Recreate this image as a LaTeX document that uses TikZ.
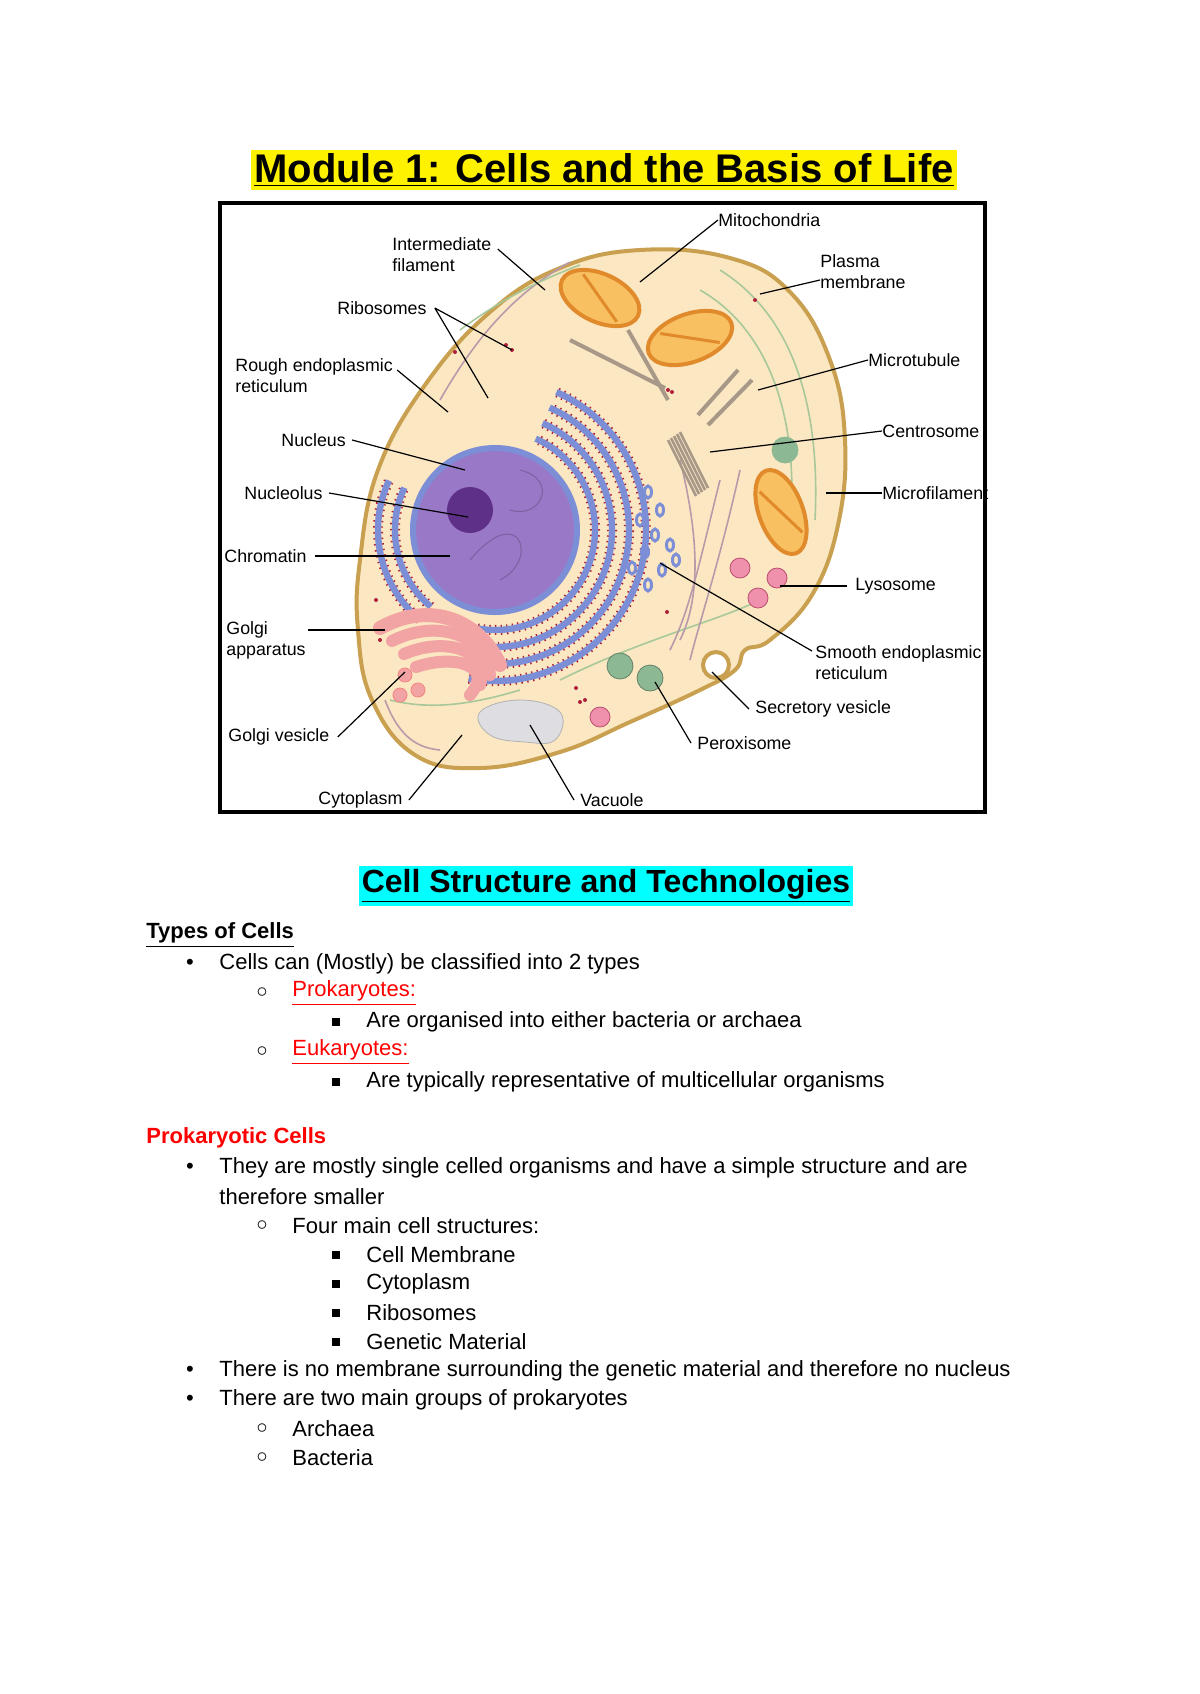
\documentclass[tikz,border=0pt]{standalone}
\usepackage{fontspec}
\setmainfont{Liberation Sans}
\usetikzlibrary{calc}
\definecolor{cellfill}{HTML}{FBE7C2}
\definecolor{cellline}{HTML}{C9A050}
\definecolor{erblue}{HTML}{7C8FD6}
\definecolor{ribored}{HTML}{B0203A}
\definecolor{nucpur}{HTML}{9A78C8}
\definecolor{nucdark}{HTML}{5E3088}
\definecolor{golgi}{HTML}{F2A3A3}
\definecolor{mito}{HTML}{E08A2C}
\definecolor{mitoin}{HTML}{F8C060}
\definecolor{pero}{HTML}{8DB894}
\definecolor{lyso}{HTML}{E8608A}
\definecolor{fil}{HTML}{B89AAA}
\definecolor{filg}{HTML}{A8C89A}
\definecolor{tub}{HTML}{A89888}
\definecolor{hlcyan}{HTML}{00FFFF}
\newcommand{\sqbul}{\rule{3.8pt}{3.8pt}}
\tikzset{
  lab/.style={font=\fontsize{8.9}{10.5}\selectfont, anchor=west, align=left, inner sep=0pt},
  lead/.style={draw=black, line width=0.6pt},
  txt/.style={font=\fontsize{11}{13}\selectfont, anchor=west, inner sep=0pt},
  er/.style={line width=3.2pt, draw=erblue},
  erdots/.style={line width=5pt, draw=ribored, dash pattern=on 0.7pt off 2.2pt},
  blt/.style={font=\fontsize{11}{13}\selectfont, inner sep=0pt}
}
\begin{document}
\begin{tikzpicture}[x=0.5pt,y=-0.5pt]
\useasboundingbox (0,0) rectangle (1200,1694);
% title
\node[fill=yellow, inner sep=1.5pt, font=\fontsize{20}{22}\selectfont\bfseries] (title) at (604,170) {\underline{Module 1: Cells and the Basis of Life}};
% frame
\draw[line width=2.2pt] (220,203) rectangle (985,812);
% cell
\draw[fill=cellfill, draw=cellline, line width=2pt] plot[smooth cycle, tension=0.7] coordinates {
 (360,560) (378,470) (425,385) (490,312) (560,268) (640,250) (730,258) (790,292) (830,360) (845,440) (838,525) (812,595) (770,640) (745,650) (735,670) (700,690) (630,722) (560,752) (480,768) (415,755) (372,700) (358,630)};
% secretory vesicle notch
\draw[fill=white, draw=cellline, line width=2pt] (716,665) circle (13);
% filaments
\draw[fil, line width=0.8pt] (440,400) .. controls (480,330) and (520,290) .. (570,262);
\draw[filg, line width=0.8pt] (460,330) .. controls (500,300) and (540,280) .. (580,265);
\draw[filg, line width=0.8pt] (720,270) .. controls (800,320) and (820,420) .. (815,520);
\draw[filg, line width=0.8pt] (700,290) .. controls (770,330) and (800,420) .. (790,530);
\draw[filg, line width=0.8pt] (560,680) .. controls (640,640) and (720,620) .. (760,600);
\draw[filg, line width=0.8pt] (390,700) .. controls (430,710) and (470,705) .. (520,690);
\draw[fil, line width=0.8pt] (680,460) .. controls (700,540) and (700,600) .. (680,640);
\draw[fil, line width=0.8pt] (720,480) .. controls (700,560) and (690,610) .. (670,650);
\draw[fil, line width=0.8pt] (740,470) .. controls (720,560) and (700,620) .. (690,660);
\draw[fil, line width=0.8pt] (385,700) .. controls (400,740) and (420,748) .. (440,750);
% microtubules
\draw[tub, line width=2pt] (570,340) -- (665,388);
\draw[tub, line width=2pt] (628,330) -- (668,400);
\draw[tub, line width=2pt] (738,370) -- (698,415);
\draw[tub, line width=2pt] (752,380) -- (708,425);
% centrosome
\foreach \i in {0,...,4} \draw[tub, line width=1.3pt] ($(668,440)+(\i*3,-\i*2)$) -- ++(28,56);
\draw[pero, fill=pero] (785,450) circle (13);
% mitochondria
\foreach \cx/\cy/\rx/\ry/\ang in {600/298/42/24/-25, 690/338/44/24/20, 781/512/22/44/20}{
 \draw[draw=mito, fill=mitoin, line width=2pt, rotate around={\ang:(\cx,\cy)}] (\cx,\cy) ellipse ({\rx} and {\ry});
 \draw[draw=mito, line width=1.5pt, rotate around={\ang:(\cx,\cy)}] ($(\cx,\cy)+(-0.6*\rx,-0.6*\ry)$) -- ($(\cx,\cy)+(0.6*\rx,0.6*\ry)$);
}
% lysosomes
\foreach \x/\y in {740/568,777/578,758/598,600/717}\draw[draw=lyso!80!black, fill=lyso!70] (\x,\y) circle (10);
% peroxisomes
\draw[draw=pero!70!black, fill=pero] (620,666) circle (13);
\draw[draw=pero!70!black, fill=pero] (650,678) circle (13);
% vacuole
\draw[draw=gray!60, fill=blue!8!gray!25] plot[smooth cycle, tension=0.7] coordinates {(480,712) (520,700) (560,712) (555,740) (525,742) (490,735)};
% ER rough
\foreach \r in {100,117,134,151}{
 \draw[erdots] (495,530) ++(100:\r) arc (100:-66:\r);
 \draw[er] (495,530) ++(100:\r) arc (100:-66:\r);
}
\foreach \r in {100,117}{
 \draw[erdots] (495,530) ++(130:\r) arc (130:205:\r);
 \draw[er] (495,530) ++(130:\r) arc (130:205:\r);
}
% golgi
\foreach \r/\w in {0/7,1/6,2/6,3/6}{
 \draw[golgi, line width=\w pt, line cap=round] ($(380,628)+(\r*12,\r*13)$) .. controls ($(430,600)+(\r*8,\r*18)$) and ($(480,620)+(\r*5,\r*15)$) .. ($(500,665)+(-\r*10,\r*10)$);
}
\foreach \x/\y in {405/675,418/690,400/695}\draw[fill=golgi, draw=golgi!80!red] (\x,\y) circle (7);
% nucleus
\draw[draw=erblue, fill=nucpur, line width=3pt] (495,530) circle (82);
\draw[nucpur!80!black, line width=0.5pt] (470,560) .. controls (520,500) and (540,560) .. (500,580) (520,470) .. controls (560,480) and (540,520) .. (510,510);
\fill[nucdark] (470,510) circle (23);
% smooth ER
\foreach \x/\y in {648/492,660/510,640/520,655/535,670/545,645/552,632/568,662/570,648/585,676/560}\draw[erblue, line width=1.5pt] (\x,\y) ellipse (3.5 and 6);
% ribosome dots
\foreach \x/\y in {512/350,506/345,455/352,668/390,672/392,755/300,380/640,376/600,580/702,585/700,667/612,576/688}\fill[ribored] (\x,\y) circle (2);
% labels
\node[lab] (mitoL) at (718,220) {Mitochondria};
\draw[lead] (mitoL.west) -- (640,282);
\node[lab] (ifL) at (392,255) {Intermediate\\filament};
\coordinate (ifa) at ([shift={(6,-6)}]ifL.east);
\draw[lead] (ifa) -- (545,290);
\node[lab] (pmL) at (820,272) {Plasma\\membrane};
\draw[lead] ([yshift=-4]pmL.west) -- (760,294);
\node[lab] (riboL) at (337,308) {Ribosomes};
\coordinate (r1) at (512,350); \coordinate (r2) at (488,398);
\draw[lead] ([xshift=4]riboL.east) -- (r1) ([xshift=4]riboL.east) -- (r2);
\node[lab] (rerL) at (235,376) {Rough endoplasmic\\reticulum};
\draw[lead] ([shift={(4,-6)}]rerL.east) -- (448,412);
\node[lab] (mtL) at (868,360) {Microtubule};
\draw[lead] (mtL.west) -- (758,390);
\node[lab] (ceL) at (882,431) {Centrosome};
\draw[lead] (ceL.west) -- (710,452);
\node[lab] (nuL) at (281,440) {Nucleus};
\draw[lead] ([xshift=3]nuL.east) -- (465,470);
\node[lab] (noL) at (244,493) {Nucleolus};
\draw[lead] ([xshift=3]noL.east) -- (468,517);
\node[lab] (mfL) at (882,493) {Microfilament};
\draw[lead] (mfL.west) -- (826,493);
\node[lab] (chL) at (224,556) {Chromatin};
\draw[lead] ([xshift=4]chL.east) -- (450,556);
\node[lab] (lyL) at (855,586) {Lysosome};
\draw[lead] ([xshift=-4]lyL.west) -- (780,586);
\node[lab] (gaL) at (226,640) {Golgi\\apparatus};
\draw[lead] ([shift={(2,-10)}]gaL.east) -- (385,630);
\node[lab] (serL) at (815,663) {Smooth endoplasmic\\reticulum};
\draw[lead] ([shift={(-3,-12)}]serL.west) -- (660,563);
\node[lab] (svL) at (755,709) {Secretory vesicle};
\draw[lead] ([xshift=-3]svL.west) -- (712,672);
\node[lab] (peL) at (697,743) {Peroxisome};
\draw[lead] ([xshift=-3]peL.west) -- (655,682);
\node[lab] (gvL) at (228,737) {Golgi vesicle};
\draw[lead] ([xshift=4]gvL.east) -- (405,672);
\node[lab] (cyL) at (318,800) {Cytoplasm};
\draw[lead] ([xshift=3]cyL.east) -- (462,735);
\node[lab] (vaL) at (580,800) {Vacuole};
\draw[lead] ([xshift=-3]vaL.west) -- (530,725);
% second heading
\node[fill=hlcyan, inner sep=1.5pt, font=\fontsize{16}{18}\selectfont\bfseries] (h2) at (606,886) {\underline{Cell Structure and Technologies}};
% body
\node[txt, font=\fontsize{11}{13}\selectfont\bfseries] (t1) at (146,935) {\underline{Types of Cells}};
\node[blt] at (190,964) {\textbullet}; \node[txt] (t2) at (219,964) {Cells can (Mostly) be classified into 2 types};
\node[blt] at (262,993) {$\circ$}; \node[txt, text=red] (t3) at (292,993) {\underline{Prokaryotes:}};
\node[blt] at (336,1022) {\sqbul}; \node[txt] (t4) at (366,1022) {Are organised into either bacteria or archaea};
\node[blt] at (262,1052) {$\circ$}; \node[txt, text=red] (t5) at (292,1052) {\underline{Eukaryotes:}};
\node[blt] at (336,1082) {\sqbul}; \node[txt] (t6) at (366,1082) {Are typically representative of multicellular organisms};
\node[txt, text=red, font=\fontsize{11}{13}\selectfont\bfseries] (t7) at (146,1138) {Prokaryotic Cells};
\node[blt] at (190,1168) {\textbullet}; \node[txt] (t8) at (219,1168) {They are mostly single celled organisms and have a simple structure and are};
\node[txt] (t9) at (219,1197) {therefore smaller};
\node[blt] at (262,1226) {$\circ$}; \node[txt] (t10) at (292,1226) {Four main cell structures:};
\node[blt] at (336,1255) {\sqbul}; \node[txt] at (366,1255) {Cell Membrane};
\node[blt] at (336,1284) {\sqbul}; \node[txt] at (366,1284) {Cytoplasm};
\node[blt] at (336,1313) {\sqbul}; \node[txt] at (366,1313) {Ribosomes};
\node[blt] at (336,1342) {\sqbul}; \node[txt] at (366,1342) {Genetic Material};
\node[blt] at (190,1371) {\textbullet}; \node[txt] at (219,1371) {There is no membrane surrounding the genetic material and therefore no nucleus};
\node[blt] at (190,1400) {\textbullet}; \node[txt] at (219,1400) {There are two main groups of prokaryotes};
\node[blt] at (262,1429) {$\circ$}; \node[txt] at (292,1429) {Archaea};
\node[blt] at (262,1458) {$\circ$}; \node[txt] at (292,1458) {Bacteria};
\end{tikzpicture}
\end{document}
